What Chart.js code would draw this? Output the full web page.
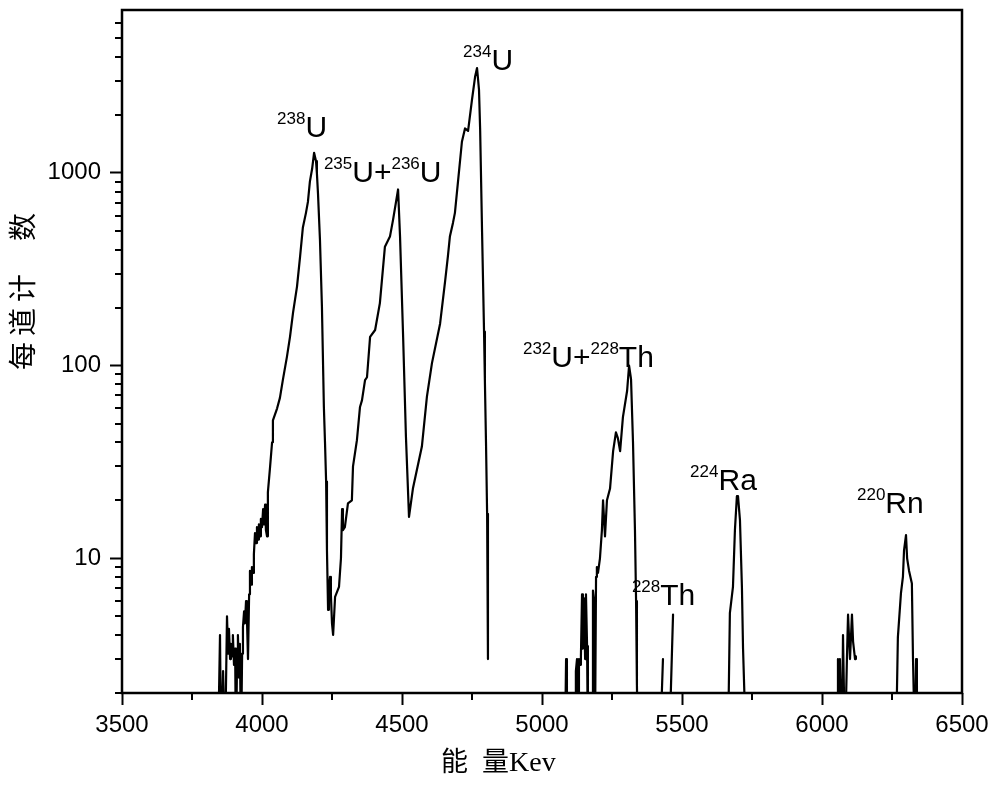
<!DOCTYPE html>
<html>
<head>
<meta charset="utf-8">
<title>Alpha spectrum</title>
<script src="https://cdn.jsdelivr.net/npm/chart.js@4.4.1/dist/chart.umd.min.js"></script>
<style>
  html, body { margin: 0; padding: 0; background: #fff; }
  canvas { display: block; }
</style>
</head>
<body>
<canvas id="spectrum" width="1000" height="786"></canvas>
<script>
// Spectrum: energy (keV) and counts per channel.
// 1 = empty channel (below the axis floor of 2), null = trace stops there.
const energy = [
  3843, 3850, 3854, 3861, 3868, 3875, 3879, 3882, 3886, 3889,
  3893, 3896, 3900, 3904, 3907, 3911, 3914, 3918, 3921, 3925,
  3929, 3932, 3936, 3939, 3943, 3946, 3950, 3954, 3957, 3961,
  3964, 3968, 3971, 3975, 3979, 3982, 3986, 3989, 3993, 3996,
  4000, 4004, 4007, 4011, 4014, 4018, 4021, 4029, 4036, 4039,
  4054, 4064, 4075, 4089, 4100, 4111, 4125, 4136, 4146, 4157,
  4164, 4171, 4179, 4186, 4193, 4196, 4200, 4207, 4214, 4221,
  4225, 4229, 4232, 4236, 4239, 4243, 4246, 4250, 4254, 4261,
  4275, 4282, 4286, 4289, 4296, 4307, 4321, 4325, 4339, 4350,
  4357, 4368, 4375, 4386, 4404, 4421, 4439, 4457, 4468, 4486,
  4493, 4504, 4514, 4525, 4539, 4571, 4589, 4607, 4636, 4654,
  4664, 4671, 4682, 4689, 4700, 4714, 4725, 4736, 4750, 4761,
  4768, 4775, 4779, 4786, 4793, 4796, 4800, 4804, 4807, 4808,
  5082, 5086, 5089, 5118, 5121, 5125, 5129, 5132, 5136, 5139,
  5143, 5146, 5150, 5154, 5157, 5161, 5164, 5179, 5182, 5186,
  5189, 5193, 5196, 5200, 5207, 5214, 5218, 5225, 5232, 5243,
  5254, 5264, 5271, 5279, 5289, 5304, 5311, 5318, 5325, 5332,
  5336, 5339, 5343, 5421, 5432, 5433, 5454, 5468, 5469, 5664,
  5671, 5682, 5689, 5696, 5700, 5707, 5714, 5718, 5729, 6054,
  6057, 6061, 6064, 6071, 6075, 6082, 6089, 6093, 6100, 6107,
  6111, 6118, 6121, 6122, 6264, 6271, 6282, 6289, 6293, 6300,
  6304, 6311, 6321, 6325, 6332, 6336, 6339
];
const counts = [
  1, 4.0, 1, 2.6, 1, 5.0, 3.2, 4.3, 3.0, 3.6,
  3.1, 4.0, 2.8, 3.4, 1, 3.0, 4.0, 2.4, 3.6, 1,
  3.2, 4.4, 5.3, 4.6, 6.0, 5.0, 3.0, 6.5, 8.6, 7.3,
  9.0, 8.4, 10.5, 13.5, 12, 14.5, 12.5, 15, 13, 16,
  14.5, 18, 15, 19, 14, 13, 22, 30, 40, 52,
  60, 68, 85, 111, 141, 189, 257, 368, 521, 620,
  707, 900, 1050, 1270, 1150, 1000, 780, 450, 203, 61,
  40, 25, 11, 5.4, 7.0, 8.0, 6.5, 4.6, 4.0, 6.3,
  7.1, 10, 18, 14, 14.5, 19.3, 20, 30, 41, 61,
  66, 84, 87, 141, 153, 211, 414, 467, 570, 820,
  467, 141, 43, 16.4, 23, 38, 69, 103, 165, 274,
  370, 467, 550, 620, 900, 1450, 1700, 1650, 2400, 3150,
  3500, 2700, 1700, 490, 150, 84, 40, 17, 3.0, null,
  1, 3.0, 1, 1, 2.6, 3.0, 1, 3.0, 2.8, 3.1,
  6.5, 3.4, 6.2, 3.0, 6.5, 3.5, 1, 1, 6.8, 6.0,
  1, 8.0, 9.0, 8.4, 10, 14, 20, 13, 20, 23,
  36, 45, 42, 36, 54, 74, 100, 85, 40, 14,
  6, 2.2, 1, 1, 3.0, null, 1, 5.1, null, 1,
  5.2, 7.1, 14, 21, 21, 15.8, 7.1, 3.4, 1, 1,
  3.0, 1, 3.0, 1, 4.0, 1, 3.0, 5.1, 3.0, 5.1,
  3.7, 3.0, 3.1, null, 1, 3.9, 6.6, 8.0, 11, 13.2,
  10, 8.6, 7.4, 3.0, 1, 3.0, 1
];

// Axis ticks
const xTicks = [3500, 4000, 4500, 5000, 5500, 6000, 6500];
const xMinorTicks = [3750, 4250, 4750, 5250, 5750, 6250];
const yTicks = [10, 100, 1000];
const yMinorTicks = [2, 3, 4, 5, 6, 7, 8, 9, 20, 30, 40, 50, 60, 70, 80, 90,
  200, 300, 400, 500, 600, 700, 800, 900, 2000, 3000, 4000, 5000, 6000];

// Axis titles
const xTitle = ['能', '量'];
const xTitleUnit = 'Kev';
const yTitle = '每道计 数';

// Peak labels: [mass, symbol, mass, symbol...] anchored at (energy, counts)
const peakLabels = [['238', 'U'], ['235', 'U+', '236', 'U'], ['234', 'U'],
  ['232', 'U+', '228', 'Th'], ['228', 'Th'], ['224', 'Ra'], ['220', 'Rn']];
const peakLabelEnergy = [4054, 4221, 4718, 4932, 5321, 5529, 6125];
const peakLabelCounts = [1541, 900, 3435, 98, 5.7, 22.6, 17.2];

const tickFont = { family: "'Liberation Sans', Arial, sans-serif", size: 24 };
const cjkFont = "'Noto Sans CJK SC', 'Noto Sans CJK JP', sans-serif";

// Frame, minor ticks, axis titles and peak labels
const spectrumDecor = {
  id: 'spectrumDecor',
  afterDraw(chart) {
    const { ctx, chartArea: area, scales: { x, y } } = chart;
    ctx.save();
    ctx.strokeStyle = '#000';
    ctx.fillStyle = '#000';

    ctx.lineWidth = 2.5;
    ctx.strokeRect(area.left, area.top, area.right - area.left, area.bottom - area.top);

    ctx.lineWidth = 2;
    ctx.beginPath();
    xMinorTicks.forEach(v => {
      const px = Math.round(x.getPixelForValue(v));
      ctx.moveTo(px, area.bottom);
      ctx.lineTo(px, area.bottom + 7);
    });
    yMinorTicks.forEach(v => {
      const py = Math.round(y.getPixelForValue(v));
      ctx.moveTo(area.left - 7, py);
      ctx.lineTo(area.left, py);
    });
    ctx.stroke();

    // y title, glyph by glyph, reading bottom to top
    ctx.font = `28px ${cjkFont}`;
    ctx.textAlign = 'center';
    ctx.textBaseline = 'middle';
    let cy = 356;
    for (const ch of yTitle) {
      if (ch === ' ') { cy -= 27; continue; }
      ctx.save();
      ctx.translate(22, cy);
      ctx.rotate(-Math.PI / 2);
      ctx.fillText(ch, 0, 0);
      ctx.restore();
      cy -= 34;
    }

    // x title
    ctx.textAlign = 'left';
    ctx.textBaseline = 'alphabetic';
    ctx.font = `27px ${cjkFont}`;
    let tx = 441;
    xTitle.forEach((ch, i) => {
      ctx.fillText(ch, tx, 771);
      tx += ctx.measureText(ch).width + (i === 0 ? 14 : 0);
    });
    ctx.font = "28px 'Liberation Serif', 'Times New Roman', serif";
    ctx.fillText(xTitleUnit, tx, 771);

    // peak labels with superscript mass numbers
    peakLabels.forEach((parts, k) => {
      let lx = x.getPixelForValue(peakLabelEnergy[k]);
      const ly = y.getPixelForValue(peakLabelCounts[k]);
      parts.forEach((part, i) => {
        const isMass = i % 2 === 0;
        ctx.font = isMass ? "17px 'Liberation Sans', Arial" : "30px 'Liberation Sans', Arial";
        ctx.fillText(part, lx, isMass ? ly - 13 : ly);
        lx += ctx.measureText(part).width;
      });
    });

    ctx.restore();
  }
};

const axisGrid = {
  display: true,
  drawOnChartArea: false,
  drawTicks: true,
  tickLength: 12,
  tickWidth: 2,
  tickColor: '#000',
};

new Chart(document.getElementById('spectrum'), {
  type: 'line',
  data: {
    datasets: [{
      data: energy.map((e, i) => ({ x: e, y: counts[i] })),
      borderColor: '#000',
      borderWidth: 2.2,
      borderJoinStyle: 'round',
      borderCapStyle: 'round',
      pointRadius: 0,
      tension: 0,
      spanGaps: false,
    }]
  },
  options: {
    responsive: false,
    animation: false,
    devicePixelRatio: 1,
    layout: { padding: { top: 10, right: 38, left: 0, bottom: 0 } },
    plugins: {
      legend: { display: false },
      tooltip: { enabled: false },
    },
    scales: {
      x: {
        type: 'linear',
        min: 3500,
        max: 6500,
        afterBuildTicks: scale => { scale.ticks = xTicks.map(value => ({ value })); },
        afterFit: scale => {
          scale.height = 93;
          scale.paddingLeft = 0;
          scale.paddingRight = 0;
        },
        ticks: { font: tickFont, color: '#000', padding: 6, maxRotation: 0, autoSkip: false, callback: v => String(v) },
        grid: axisGrid,
        border: { display: false },
      },
      y: {
        type: 'logarithmic',
        min: 2,
        max: 7000,
        afterBuildTicks: scale => { scale.ticks = yTicks.map(value => ({ value })); },
        afterFit: scale => {
          scale.width = 122;
          scale.paddingTop = 0;
          scale.paddingBottom = 0;
        },
        ticks: { font: tickFont, color: '#000', padding: 9, callback: v => String(v) },
        grid: axisGrid,
        border: { display: false },
      },
    },
  },
  plugins: [spectrumDecor],
});
</script>
</body>
</html>
